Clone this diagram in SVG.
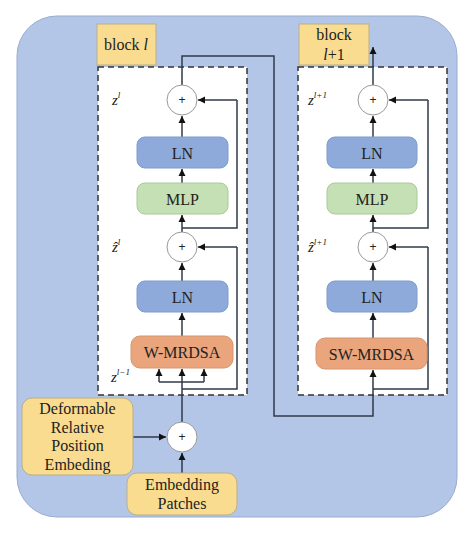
<svg xmlns="http://www.w3.org/2000/svg" width="474" height="535" viewBox="0 0 474 535">
<defs>
<marker id="ah" viewBox="0 0 10 10" refX="10" refY="5" markerWidth="7" markerHeight="9" markerUnits="userSpaceOnUse" orient="auto">
<path d="M0,0 L10,5 L0,10 z" fill="#111"/>
</marker>
</defs>
<style>
text{font-family:"Liberation Serif","DejaVu Serif",serif;fill:#222;}
.lbl{font-size:16px;text-anchor:middle;dominant-baseline:central;}
.math{font-size:15px;font-style:italic;}
.sup{font-size:9px;font-style:italic;}
.plus{fill:#fff;stroke:#999;stroke-width:1;}
.pt{font-family:"Liberation Sans",sans-serif;font-size:12px;text-anchor:middle;dominant-baseline:central;}
.ln{fill:#8eaadb;stroke:#7f9cc9;stroke-width:1;}
.mlp{fill:#c5e0b4;stroke:#a9c99a;stroke-width:1;}
.att{fill:#eba57c;stroke:#d49570;stroke-width:1;}
.yel{fill:#f9dc8f;stroke:#b8b08a;stroke-width:1;}
.dash{fill:#fff;stroke:#333;stroke-width:1.5;stroke-dasharray:6,4;}
.c{fill:none;stroke:#2f3a4a;stroke-width:1.5;}
.ca{fill:none;stroke:#2f3a4a;stroke-width:1.5;marker-end:url(#ah);}
</style>
<rect x="17" y="16" width="440" height="501" rx="40" fill="#b4c6e7" stroke="#9aaccc" stroke-width="1"/>

<g id="blockl_frame"><rect class="dash" x="98" y="67" width="149" height="328"/></g>
<g id="blockl1_frame"><rect class="dash" x="298" y="67" width="149" height="328"/></g>

<g id="label_block_l"><rect class="yel" x="97" y="24" width="59" height="41" stroke="none"/><text class="lbl" x="126" y="44">block <tspan font-style="italic">l</tspan></text></g>
<g id="label_block_l1"><rect class="yel" x="299" y="24" width="70" height="41" stroke="none"/><text class="lbl" x="334" y="34">block</text><text class="lbl" x="334" y="54"><tspan font-style="italic">l</tspan>+1</text></g>

<g id="connectors">
<path class="c" d="M182,85 V56 H274 V416 H373 V382"/>
<path class="ca" d="M373,382 V370"/>
<path class="ca" d="M182,137 V116"/>
<path class="ca" d="M182,183 V169"/>
<path class="ca" d="M182,232 V215"/>
<path class="ca" d="M182,281 V263"/>
<path class="ca" d="M182,336 V313"/>
<path class="c" d="M182,228 H237 V100"/>
<path class="ca" d="M237,100 H198"/>
<path class="c" d="M182,389 H237 V247"/>
<path class="ca" d="M237,247 H198"/>
<path class="c" d="M182,422 V382"/>
<path class="c" d="M159,382 H204"/>
<path class="ca" d="M159,382 V369"/>
<path class="ca" d="M182,382 V369"/>
<path class="ca" d="M204,382 V369"/>
<path class="ca" d="M133,437 H166"/>
<path class="ca" d="M182,473 V453"/>
<path class="ca" d="M373,85 V47"/>
<path class="ca" d="M373,137 V116"/>
<path class="ca" d="M373,183 V169"/>
<path class="ca" d="M373,232 V215"/>
<path class="ca" d="M373,281 V263"/>
<path class="ca" d="M373,338 V313"/>
<path class="c" d="M373,228 H428 V100"/>
<path class="ca" d="M428,100 H389"/>
<path class="c" d="M373,389 H428 V247"/>
<path class="ca" d="M428,247 H389"/>
</g>

<g id="plus_l_top"><circle class="plus" cx="182" cy="100" r="15"/><text class="pt" x="182" y="100">+</text></g>
<g id="ln_l_top"><rect class="ln" x="137" y="137" width="91" height="31" rx="8"/><text class="lbl" x="182.5" y="153">LN</text></g>
<g id="mlp_l"><rect class="mlp" x="137" y="183" width="91" height="31" rx="8"/><text class="lbl" x="182.5" y="199">MLP</text></g>
<g id="plus_l_mid"><circle class="plus" cx="182" cy="247" r="15"/><text class="pt" x="182" y="247">+</text></g>
<g id="ln_l_bot"><rect class="ln" x="137" y="281" width="91" height="31" rx="8"/><text class="lbl" x="182.5" y="297">LN</text></g>
<g id="wmrdsa"><rect class="att" x="131" y="336" width="102" height="32" rx="9"/><text class="lbl" x="182" y="352">W-MRDSA</text></g>

<g id="plus_r_top"><circle class="plus" cx="373" cy="100" r="15"/><text class="pt" x="373" y="100">+</text></g>
<g id="ln_r_top"><rect class="ln" x="327" y="137" width="90" height="31" rx="8"/><text class="lbl" x="372" y="153">LN</text></g>
<g id="mlp_r"><rect class="mlp" x="327" y="183" width="90" height="31" rx="8"/><text class="lbl" x="372" y="199">MLP</text></g>
<g id="plus_r_mid"><circle class="plus" cx="373" cy="247" r="15"/><text class="pt" x="373" y="247">+</text></g>
<g id="ln_r_bot"><rect class="ln" x="327" y="281" width="90" height="31" rx="8"/><text class="lbl" x="372" y="297">LN</text></g>
<g id="swmrdsa"><rect class="att" x="316" y="338" width="111" height="31" rx="9"/><text class="lbl" x="371.5" y="354">SW-MRDSA</text></g>

<g id="plus_in"><circle class="plus" cx="182" cy="437" r="15"/><text class="pt" x="182" y="437">+</text></g>
<g id="drpe"><rect class="yel" x="22" y="398" width="111" height="77" rx="10"/>
<text class="lbl" x="77.5" y="408">Deformable</text><text class="lbl" x="77.5" y="427">Relative</text><text class="lbl" x="77.5" y="445">Position</text><text class="lbl" x="77.5" y="464">Embeding</text></g>
<g id="patches"><rect class="yel" x="127" y="473" width="110" height="42" rx="10"/>
<text class="lbl" x="182" y="484">Embedding</text><text class="lbl" x="182" y="503">Patches</text></g>

<g id="math_labels">
<text class="math" x="112" y="105">z<tspan class="sup" dy="-7">l</tspan></text>
<text class="math" x="112" y="252">ẑ<tspan class="sup" dy="-7">l</tspan></text>
<text class="math" x="308" y="105">z<tspan class="sup" dy="-7">l+1</tspan></text>
<text class="math" x="308" y="252">ẑ<tspan class="sup" dy="-7">l+1</tspan></text>
<text class="math" x="111" y="382">z<tspan class="sup" dy="-7">l−1</tspan></text>
</g>
</svg>
